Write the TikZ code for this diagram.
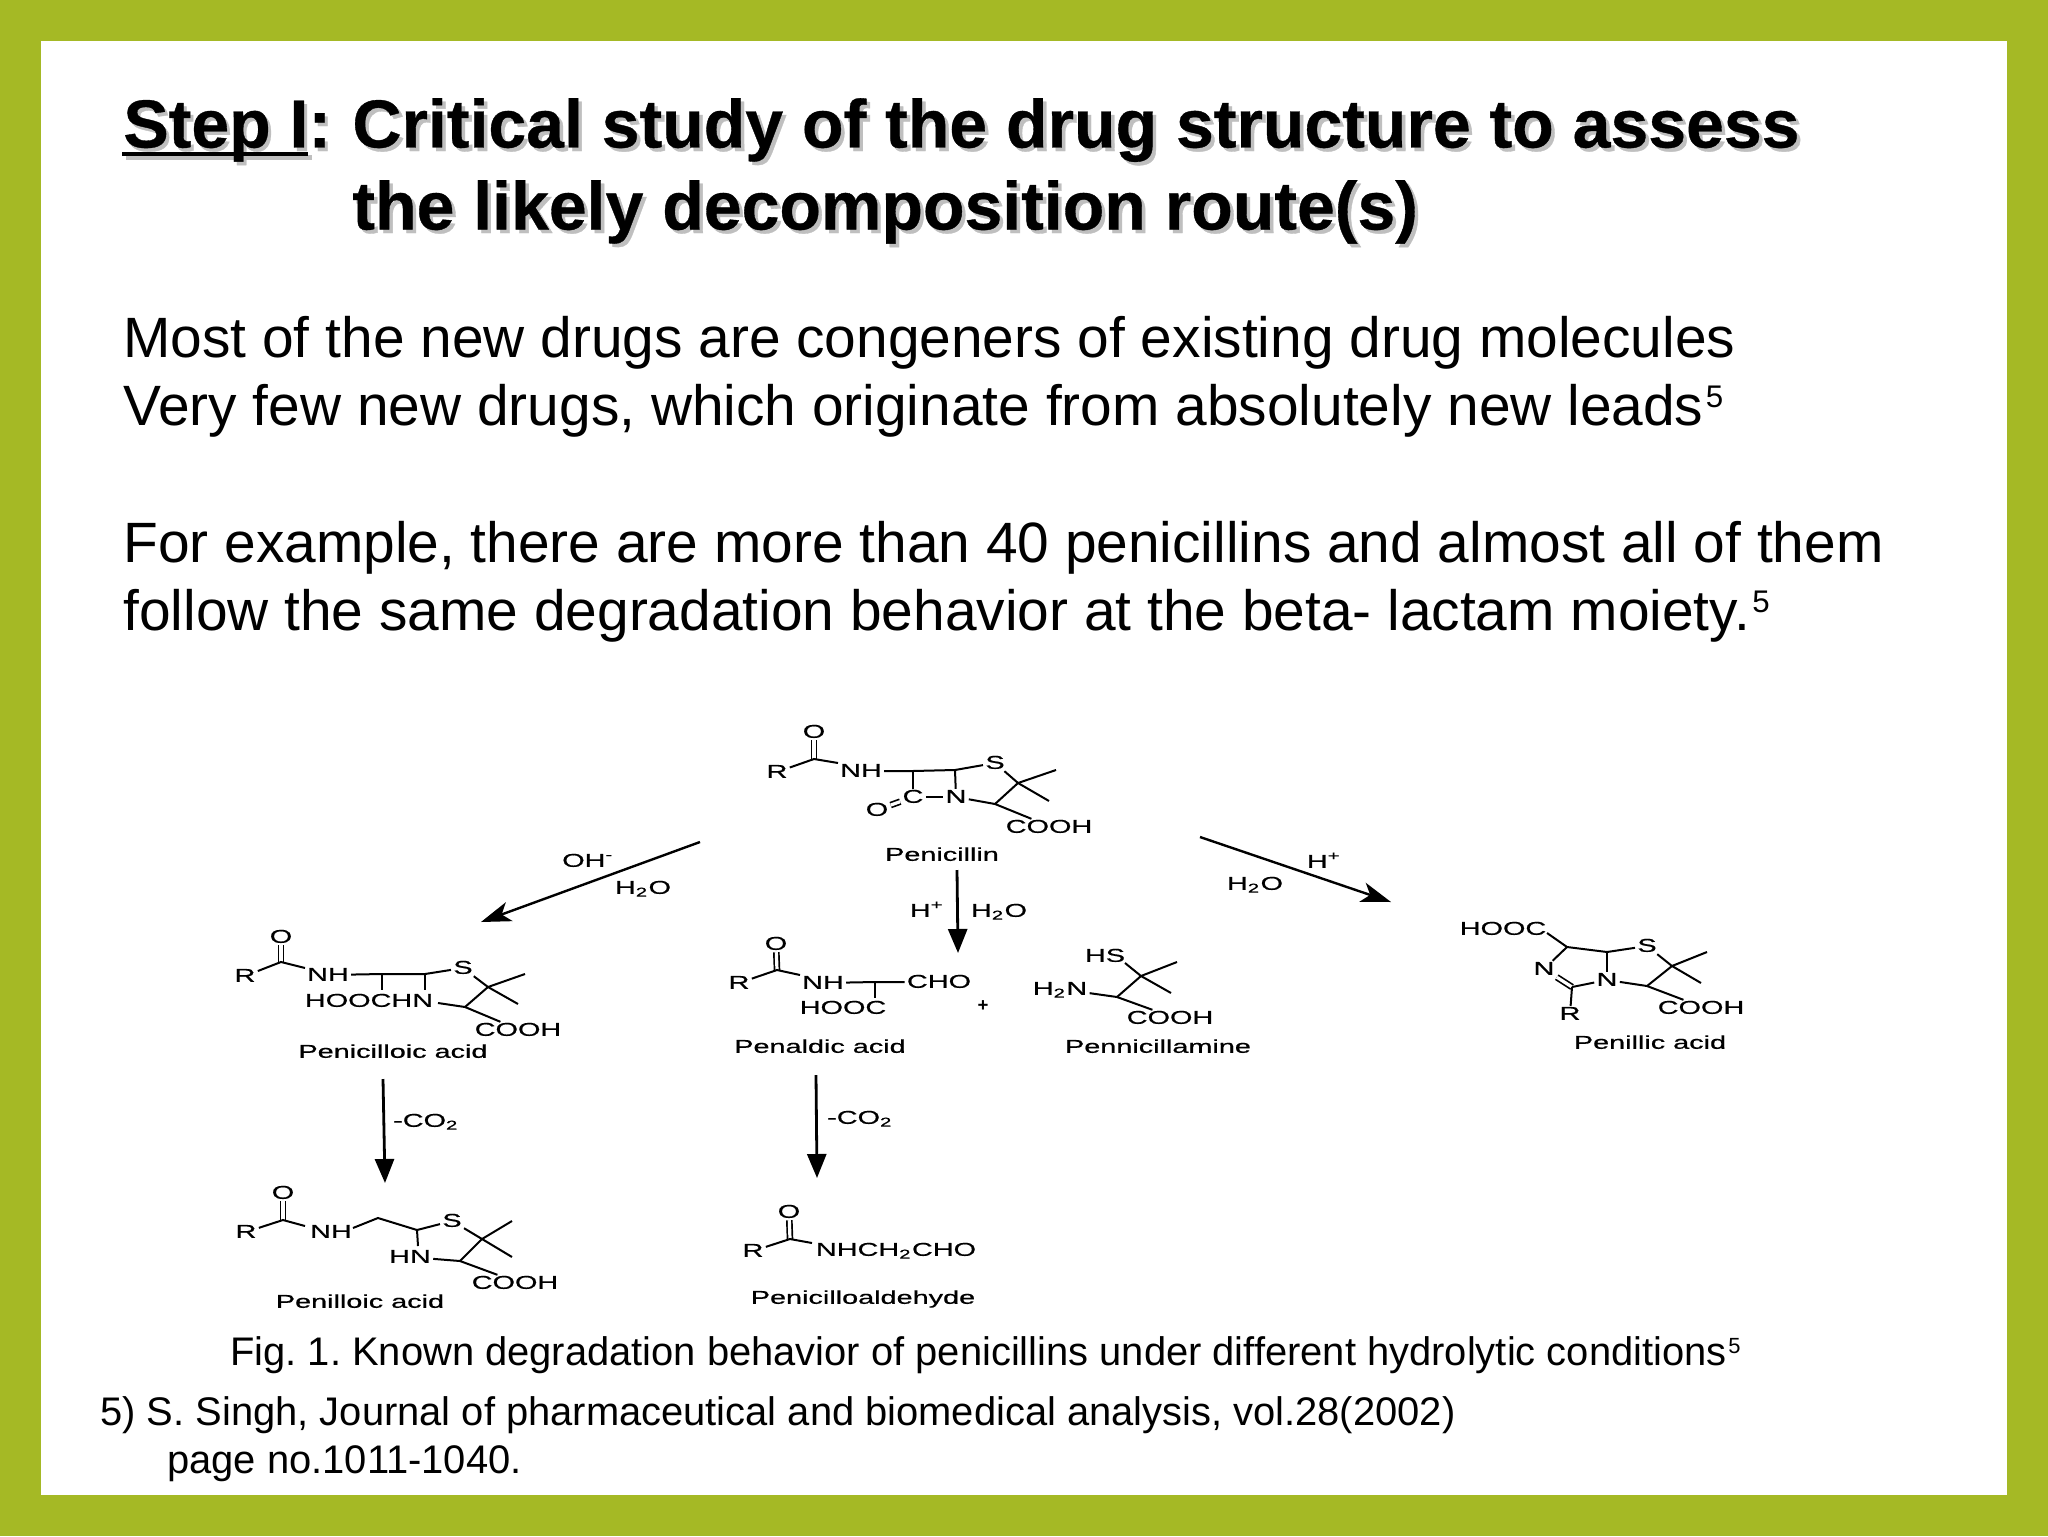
\documentclass[tikz,border=0pt]{standalone}
\usepackage{fontspec}
\setmainfont{Liberation Sans}
\newfontfamily\molf[FakeBold=0.6]{Liberation Sans}
\newfontfamily\ttlf[FakeBold=0.5]{Liberation Sans Bold}
\usetikzlibrary{arrows.meta}
\newcommand{\molt}[1]{\scalebox{1.55}[1]{#1}}
\newcommand{\hh}{H\textsubscript{2}O}
\newcommand{\supf}[1]{\hspace{0.04em}\raisebox{0.3em}{\scalebox{0.55}{#1}}}
\definecolor{frameg}{HTML}{A5B925}
\tikzset{
  x=0.5pt,y=-0.5pt,
  atom/.style={font=\fontsize{9.3}{11}\selectfont\molf,inner sep=1pt,text height=5.8pt,text depth=0pt,anchor=center},
  bond/.style={line width=1pt,black},
  dbl/.style={line width=0.85pt,double,double distance=1.6pt,black},
  rxn/.style={line width=1.4pt,-{Triangle[length=12pt,width=9.5pt]},black},
  rxnd/.style={line width=1.2pt,-{Stealth[length=15pt,width=10pt,inset=4pt]},black},
  ttl/.style={font=\fontsize{34}{34}\selectfont\ttlf\frenchspacing,anchor=base west,inner sep=0pt},
  body/.style={font=\fontsize{28.43}{28.43}\selectfont\frenchspacing,anchor=base west,inner sep=0pt},
  capt/.style={font=\fontsize{19.95}{20}\selectfont\frenchspacing,anchor=base west,inner sep=0pt},
}
\begin{document}
\begin{tikzpicture}
\fill[frameg] (0,0) rectangle (2048,1536);
\fill[white] (41,41) rectangle (2007,1495);
\useasboundingbox (0,0) rectangle (2048,1536);
% title shadow
\begin{scope}[color=black!25,text=black!25]
\node[ttl] (ts1) at (126,151) {Step I};
\node[ttl] (ts2) at (311,151) {:};
\node[ttl] (ts3) at (355.5,151) {Critical study of the drug structure to assess};
\node[ttl] (ts4) at (355.5,233) {the likely decomposition route(s)};
\fill (126,155) rectangle (312,160);
\end{scope}
\node[ttl] (t1) at (123,147.5) {Step I};
\node[ttl] (t2) at (308,147.5) {:};
\node[ttl] (t3) at (352,147.5) {Critical study of the drug structure to assess};
\node[ttl] (t4) at (352,229.5) {the likely decomposition route(s)};
\fill (122,151.5) rectangle (308,156);
% body
\node[body] (b1) at (123,357) {Most of the new drugs are congeners of existing drug molecules};
\node[body] (b2) at (123,425) {Very few new drugs, which originate from absolutely new leads\supf{5}};
\node[body] (b3) at (123,562) {For example, there are more than 40 penicillins and almost all of them};
\node[body] (b4) at (123,630) {follow the same degradation behavior at the beta- lactam moiety.\supf{5}};
\node[capt] (c1) at (230,1365) {Fig. 1. Known degradation behavior of penicillins under different hydrolytic conditions\supf{5}};
\node[capt] (c2) at (100,1425) {5) S. Singh, Journal of pharmaceutical and biomedical analysis, vol.28(2002)};
\node[capt] (c3) at (167,1473) {page no.1011-1040.};

% ---- Penicillin
\node[atom] (pO) at (814,732) {\molt{O}};
\coordinate (pC1) at (814,759);
\node[atom] (pR) at (777,772) {\molt{R}};
\node[atom] (pNH) at (861,771) {\molt{NH}};
\coordinate (pJ) at (913,771);
\coordinate (pK) at (955,770);
\node[atom] (pC) at (913,797) {\molt{C}};
\node[atom] (pN) at (956,797) {\molt{N}};
\node[atom] (pO2) at (877,810) {\molt{O}};
\node[atom] (pS) at (995,763) {\molt{S}};
\coordinate (pQ) at (1018,783);
\coordinate (pM1) at (1056,770);
\coordinate (pM2) at (1049,801);
\coordinate (pT) at (995,804);
\node[atom] (pCOOH) at (1049,827) {\molt{COOH}};
\node[atom] (pname) at (942,855) {\molt{Penicillin}};
\draw[dbl] (pO) -- (pC1);
\draw[bond] (pR) -- (pC1) -- (838,763);
\draw[bond] (pNH) -- (pJ) -- (pK) -- (pS) -- (pQ);
\draw[bond] (pJ) -- (pC);
\draw[bond] (pK) -- (pN);
\draw[bond] (pC) -- (pN);
\draw[dbl] (pO2) -- (pC);
\draw[bond] (pQ) -- (pM1);
\draw[bond] (pQ) -- (pM2);
\draw[bond] (pN) -- (pT) -- (pQ);
\draw[bond] (pT) -- (pCOOH.155);
% arrows from penicillin
\coordinate (a1s) at (957,870);
\coordinate (a1e) at (958,953);
\draw[rxn] (a1s) -- (a1e);
\node[atom] (a1l) at (927,911) {\molt{H\textsuperscript{+}}};
\node[atom] (a1r) at (999,911) {\molt{\hh}};
\coordinate (a2s) at (700,842);
\coordinate (a2e) at (481,922);
\draw[rxnd] (a2s) -- (a2e);
\node[atom] (a2l) at (588,861) {\molt{OH\textsuperscript{-}}};
\node[atom] (a2r) at (643,888) {\molt{\hh}};
\coordinate (a3s) at (1200,837);
\coordinate (a3e) at (1391,902);
\draw[rxnd] (a3s) -- (a3e);
\node[atom] (a3l) at (1324,862) {\molt{H\textsuperscript{+}}};
\node[atom] (a3r) at (1255,884) {\molt{\hh}};

% ---- Penicilloic acid
\node[atom] (oO) at (281,937) {\molt{O}};
\coordinate (oC1) at (281,962);
\node[atom] (oR) at (245,976) {\molt{R}};
\node[atom] (oNH) at (328,975) {\molt{NH}};
\coordinate (oJ) at (382,974);
\coordinate (oK) at (425,974);
\node[atom] (oHN) at (369,1001) {\molt{HOOCHN}};
\node[atom] (oS) at (463,968) {\molt{S}};
\coordinate (oQ) at (488,987);
\coordinate (oM1) at (525,974);
\coordinate (oM2) at (518,1004);
\coordinate (oT) at (465,1007);
\node[atom] (oCOOH) at (518,1030) {\molt{COOH}};
\node[atom] (oname) at (393,1052) {\molt{Penicilloic acid}};
\draw[dbl] (oO) -- (oC1);
\draw[bond] (oR) -- (oC1) -- (305,968);
\draw[bond] (oNH) -- (oJ) -- (oK) -- (oS) -- (oQ);
\draw[bond] (oJ) -- (382,990);
\draw[bond] (oK) -- (425,990);
\draw[bond] (oQ) -- (oM1);
\draw[bond] (oQ) -- (oM2);
\draw[bond] (438,1003) -- (oT) -- (oQ);
\draw[bond] (oT) -- (oCOOH.155);
\coordinate (a4s) at (383,1079);
\coordinate (a4e) at (385,1183);
\draw[rxn] (a4s) -- (a4e);
\node[atom] (a4l) at (426,1121) {\molt{-CO\textsubscript{2}}};

% ---- Penilloic acid
\node[atom] (iO) at (283,1193) {\molt{O}};
\coordinate (iC1) at (283,1220);
\node[atom] (iR) at (246,1232) {\molt{R}};
\node[atom] (iNH) at (331,1232) {\molt{NH}};
\coordinate (iJ) at (378,1218);
\coordinate (iK) at (417,1230);
\node[atom] (iS) at (452,1221) {\molt{S}};
\node[atom] (iHN) at (410,1257) {\molt{HN}};
\coordinate (iQ) at (482,1239);
\coordinate (iM1) at (512,1221);
\coordinate (iM2) at (512,1257);
\coordinate (iT) at (460,1261);
\node[atom] (iCOOH) at (515,1283) {\molt{COOH}};
\node[atom] (iname) at (360,1302) {\molt{Penilloic acid}};
\draw[dbl] (iO) -- (iC1);
\draw[bond] (iR) -- (iC1) -- (305,1226);
\draw[bond] (353,1228) -- (iJ) -- (iK) -- (iS) -- (iQ);
\draw[bond] (iK) -- (418,1246);
\draw[bond] (iHN) -- (iT) -- (iQ);
\draw[bond] (iQ) -- (iM1);
\draw[bond] (iQ) -- (iM2);
\draw[bond] (iT) -- (iCOOH.155);

% ---- Penaldic acid
\node[atom] (nO) at (776,944) {\molt{O}};
\coordinate (nC1) at (777,970);
\node[atom] (nR) at (739,983) {\molt{R}};
\node[atom] (nNH) at (823,983) {\molt{NH}};
\coordinate (nJ) at (875,982);
\node[atom] (nCHO) at (939,982) {\molt{CHO}};
\node[atom] (nHOOC) at (843,1008) {\molt{HOOC}};
\node[atom,font=\fontsize{9.3}{11}\selectfont\bfseries] (nplus) at (983,1006) {+};
\node[atom] (nname) at (820,1047) {\molt{Penaldic acid}};
\draw[dbl] (nO) -- (nC1);
\draw[bond] (nR) -- (nC1) -- (800,975);
\draw[bond] (nNH) -- (nJ) -- (nCHO);
\draw[bond] (nJ) -- (875,998);
\coordinate (a5s) at (816,1075);
\coordinate (a5e) at (817,1178);
\draw[rxn] (a5s) -- (a5e);
\node[atom] (a5l) at (860,1118) {\molt{-CO\textsubscript{2}}};

% ---- Penicilloaldehyde
\node[atom] (hO) at (789,1212) {\molt{O}};
\coordinate (hC1) at (790,1239);
\node[atom] (hR) at (753,1251) {\molt{R}};
\node[atom] (hN) at (896,1250) {\molt{NHCH\textsubscript{2}CHO}};
\node[atom] (hname) at (863,1298) {\molt{Penicilloaldehyde}};
\draw[dbl] (hO) -- (hC1);
\draw[bond] (hR) -- (hC1) -- (812,1243);

% ---- Pennicillamine
\node[atom] (mHS) at (1105,956) {\molt{HS}};
\coordinate (mQ) at (1141,976);
\coordinate (mM1) at (1177,962);
\coordinate (mM2) at (1171,993);
\node[atom] (mH2N) at (1060,989) {\molt{H\textsubscript{2}N}};
\coordinate (mT) at (1117,997);
\node[atom] (mCOOH) at (1170,1018) {\molt{COOH}};
\node[atom] (mname) at (1158,1047) {\molt{Pennicillamine}};
\draw[bond] (1125,963) -- (mQ);
\draw[bond] (mQ) -- (mM1);
\draw[bond] (mQ) -- (mM2);
\draw[bond] (mH2N) -- (mT) -- (mQ);
\draw[bond] (mT) -- (mCOOH.155);

% ---- Penillic acid
\node[atom] (lHOOC) at (1503,929) {\molt{HOOC}};
\coordinate (lA) at (1567,947);
\coordinate (lB) at (1607,952);
\node[atom] (lN1) at (1544,969) {\molt{N}};
\coordinate (lC) at (1572,987);
\node[atom] (lN2) at (1607,980) {\molt{N}};
\node[atom] (lS) at (1647,946) {\molt{S}};
\coordinate (lQ) at (1672,966);
\coordinate (lM1) at (1707,952);
\coordinate (lM2) at (1701,983);
\coordinate (lT) at (1647,986);
\node[atom] (lCOOH) at (1701,1008) {\molt{COOH}};
\node[atom] (lR) at (1570,1014) {\molt{R}};
\node[atom] (lname) at (1650,1043) {\molt{Penillic acid}};
\draw[bond] (1547,933) -- (lA) -- (lB) -- (lS) -- (lQ);
\draw[bond] (lA) -- (lN1);
\draw[dbl] (lN1) -- (lC);
\draw[bond] (lC) -- (lN2);
\draw[bond] (lB) -- (lN2);
\draw[bond] (lC) -- (lR);
\draw[bond] (lN2) -- (lT) -- (lQ);
\draw[bond] (lQ) -- (lM1);
\draw[bond] (lQ) -- (lM2);
\draw[bond] (lT) -- (lCOOH.155);
\end{tikzpicture}
\end{document}
